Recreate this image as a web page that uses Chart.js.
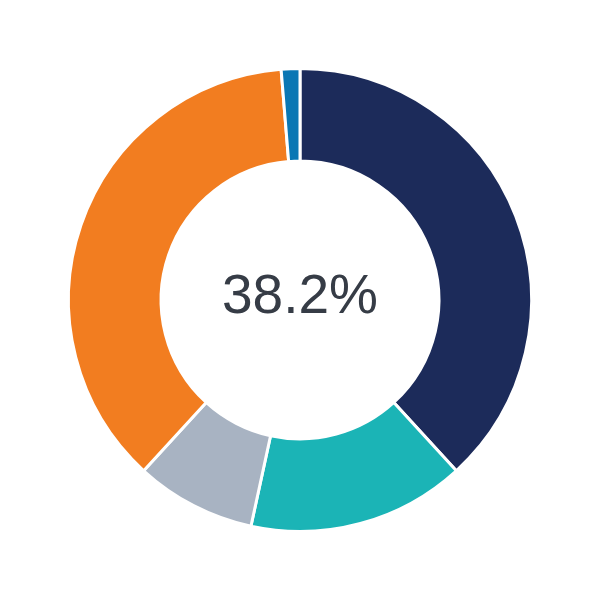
<!DOCTYPE html>
<html>
<head>
<meta charset="utf-8">
<script src="https://cdn.jsdelivr.net/npm/chart.js@4"></script>
<style>
  html, body { margin: 0; padding: 0; background: #fff; }
  #wrap { width: 600px; height: 600px; }
</style>
</head>
<body>
<div id="wrap"><canvas id="donut-canvas"></canvas></div>
<script>
const labels = ["Navy", "Teal", "Gray", "Orange", "Blue"];
const values = [38.2, 15.2, 8.4, 36.9, 1.3];
const colors = ["#1c2b5a", "#1bb4b6", "#a8b3c2", "#f27d20", "#0a77b4"];
const centerText = "38.2%";

// draws the big percentage in the hole
const centerLabel = {
  id: "centerLabel",
  afterDraw(chart) {
    const meta = chart.getDatasetMeta(0);
    if (!meta.data.length) return;
    const arc = meta.data[0];
    const ctx = chart.ctx;
    ctx.save();
    ctx.font = "55px 'Liberation Sans', Arial, sans-serif";
    ctx.fillStyle = "#363c46";
    ctx.textAlign = "center";
    ctx.textBaseline = "middle";
    ctx.fillText(centerText, arc.x, arc.y - 2);
    ctx.restore();
  }
};

const ctx = document.getElementById("donut-canvas").getContext("2d");
new Chart(ctx, {
  type: "doughnut",
  data: {
    labels: labels,
    datasets: [{
      data: values,
      backgroundColor: colors,
      borderColor: "#ffffff",
      borderWidth: 3
    }]
  },
  options: {
    responsive: true,
    maintainAspectRatio: false,
    animation: false,
    cutout: "60%",
    layout: { padding: 67 },
    plugins: {
      legend: { display: false },
      tooltip: { enabled: false }
    }
  },
  plugins: [centerLabel]
});
</script>
</body>
</html>
